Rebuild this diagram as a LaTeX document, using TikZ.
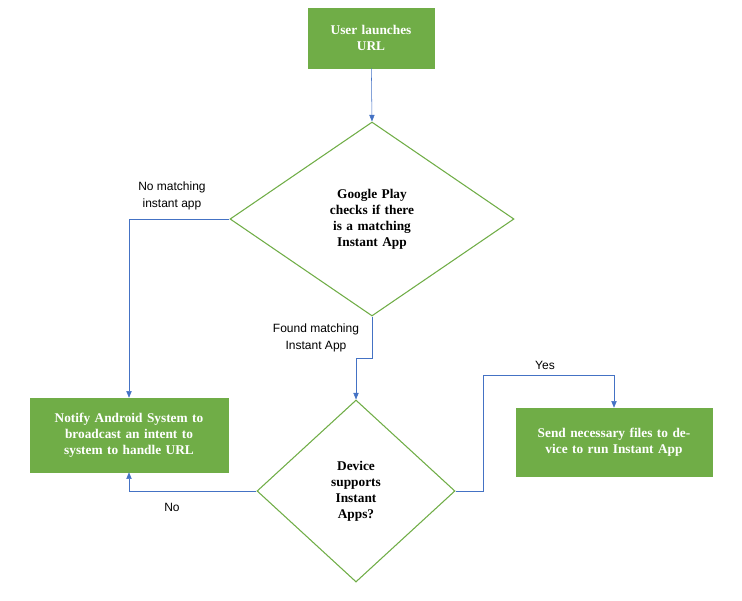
\documentclass[tikz,border=0pt]{standalone}
\usepackage{fontspec}
\setmainfont{Liberation Serif}
\newfontfamily\labelfont{Liberation Sans}
\usetikzlibrary{calc, arrows.meta, positioning, shapes.geometric}
\definecolor{boxgreen}{HTML}{70AD47}
\definecolor{arrowblue}{HTML}{4472C4}
\begin{document}
\begin{tikzpicture}[x=0.75pt, y=-0.75pt, font=\fontsize{10}{12}\selectfont\bfseries]
		\tikzstyle{action} = [draw=boxgreen, fill=boxgreen, text=white, rectangle, align=center, inner sep=0pt]
		\tikzstyle{check} = [draw=boxgreen, thick, diamond, align=center, inner sep=0pt]
		\tikzstyle{arrow} = [arrowblue, ->, >={Triangle[length=5pt, width=4pt]}]
		\tikzstyle{lbl} = [font=\labelfont\fontsize{9}{12}\selectfont, align=center]
		\useasboundingbox (0,0) rectangle (742,600);
		
		\node[action, minimum width=126*0.75pt, minimum height=60*0.75pt, text width=80pt]	at (371, 38)	(launch)	{User launches URL};
		\node[check, minimum width=284*0.75pt, minimum height=194*0.75pt, text width=75pt]	at (372, 219)	(match)	{Google Play checks if there is a matching Instant App};
		\node[action, minimum width=198*0.75pt, minimum height=74*0.75pt, text width=140pt]	at (129, 435)	(notify)	{Notify Android System to broadcast an intent to system to handle URL};
		\node[check, minimum width=198*0.75pt, minimum height=182*0.75pt, text width=50pt]	at (356, 491)	(support)	{Device supports Instant Apps?};
		\node[action, minimum width=196*0.75pt, minimum height=68*0.75pt, text width=140pt]	at (614, 442)	(send)	{Send necessary files to device to run Instant App};
		
		\draw [arrow] (launch) -- (match.north);
		\draw [arrow] (match.west) -| (notify.north);
		\draw [arrow] (match.south) -- ++(0,42) -| (support.north);
		\draw [arrow] (support.west) -| (notify.south);
		\draw [arrow] (support.east) -- ++(28,0) |- ($(send.north)+(0,-32)$) -- (send.north);
		
		\node[lbl]	at (172, 196)	(nolabel)	{No matching\\[1pt]instant app};
		\node[lbl]	at (316, 338)	(foundlabel)	{Found matching\\[1pt]Instant App};
		\node[lbl]	at (172, 507)	(nolbl)	{No};
		\node[lbl]	at (545, 365)	(yeslbl)	{Yes};
	\end{tikzpicture}
\end{document}
